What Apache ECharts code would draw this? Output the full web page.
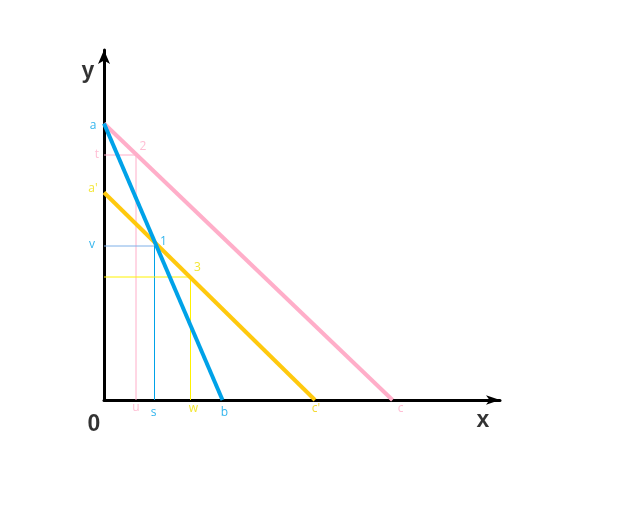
<!DOCTYPE html>
<html>
<head>
<meta charset="utf-8">
<script src="https://cdn.jsdelivr.net/npm/echarts@6/dist/echarts.min.js"></script>
<style>html,body{margin:0;padding:0;background:#fff}#c{width:640px;height:512px}</style>
</head>
<body>
<div id="c"></div>
<script>
// Intercepts (chart units)
const yInterceptA = 276.5;      // a
const yInterceptAPrime = 207.5; // a'
const xInterceptB = 118.5;      // b
const xInterceptCPrime = 211;   // c'
const xInterceptC = 288.5;      // c
// Named points [x, y]
const point1 = [50.5, 154];   // s, v
const point2 = [32, 245];     // u, t
const point3 = [86.5, 123];   // w, (3)
// Lines
const lineAB = [[0, yInterceptA], [xInterceptB, 0]];
const lineAC = [[0, yInterceptA], [xInterceptC, 0]];
const lineAPrimeCPrime = [[0, yInterceptAPrime], [xInterceptCPrime, 0]];
const axisMax = [396, 350];

const BLUE = '#00A2E8', PINK = '#FFAEC9', GOLD = '#FFC90E', YELLOW = '#FFF200';
const FONT = 'Open Sans';

function guide(p, color, hColor) {
  return [
    {type:'line', data:[[0,p[1]],[p[0],p[1]]], symbol:'none', silent:true, lineStyle:{color:hColor||color, width:1}, z:1},
    {type:'line', data:[[p[0],p[1]],[p[0],0]], symbol:'none', silent:true, lineStyle:{color:color, width:1}, z:1}
  ];
}
function lab(value, text, color, offset, size, bold) {
  return {value: value, label: {show:true, formatter:text, color:color, position:'inside', offset:offset||[0,0],
    fontSize:size||12, fontWeight:bold?'bold':'normal', fontFamily: bold ? 'Liberation Sans' : FONT}};
}

const labels = [
  lab([0, yInterceptA], 'a', BLUE, [-11, 2]),
  lab([0, point2[1]], 't', PINK, [-7, 0]),
  lab(point2, '2', PINK, [7, -8]),
  lab([0, yInterceptAPrime], "a'", '#F0E000', [-11, -4]),
  lab([0, point1[1]], 'v', BLUE, [-12, -1]),
  lab(point1, '1', BLUE, [9, -4]),
  lab(point3, '3', '#F0E000', [7, -9]),
  lab([point2[0], 0], 'u', PINK, [0, 8]),
  lab([point1[0], 0], 's', BLUE, [-1, 13]),
  lab([point3[0], 0], 'w', '#F0E000', [3, 9]),
  lab([xInterceptB, 0], 'b', BLUE, [2, 13]),
  lab([xInterceptCPrime, 0], "c'", '#F0D000', [1, 9]),
  lab([xInterceptC, 0], 'c', PINK, [8, 9]),
  lab([0, axisMax[1]], 'y', '#000', [-16, 22], 23, true),
  lab([axisMax[0], 0], 'x', '#000', [-17, 21], 23, true),
  lab([0, 0], '0', '#000', [-10, 25], 23, true)
];

const chart = echarts.init(document.getElementById('c'));
chart.setOption({
  animation:false,
  backgroundColor:'#fff',
  grid:{left:104, top:50, width:396, height:350},
  xAxis:{type:'value', min:0, max:axisMax[0], splitLine:{show:false}, axisTick:{show:false}, axisLabel:{show:false},
    axisLine:{show:true, onZero:false, lineStyle:{color:'#000', width:3}, symbol:['none','arrow'], symbolSize:[7,14]}},
  yAxis:{type:'value', min:0, max:axisMax[1], splitLine:{show:false}, axisTick:{show:false}, axisLabel:{show:false},
    axisLine:{show:true, onZero:false, lineStyle:{color:'#000', width:3}, symbol:['none','arrow'], symbolSize:[9,14]}},
  series:[
    ...guide(point2, PINK),
    ...guide(point1, BLUE, '#7FB0E8'),
    ...guide(point3, YELLOW),
    {type:'line', data:lineAC, symbol:'none', silent:true, lineStyle:{color:PINK, width:4}, z:3},
    {type:'line', data:lineAPrimeCPrime, symbol:'none', silent:true, lineStyle:{color:GOLD, width:4}, z:3},
    {type:'line', data:lineAB, symbol:'none', silent:true, lineStyle:{color:BLUE, width:4}, z:4},
    {type:'scatter', data:labels, symbolSize:0, silent:true, z:10}
  ]
});
</script>
</body>
</html>
